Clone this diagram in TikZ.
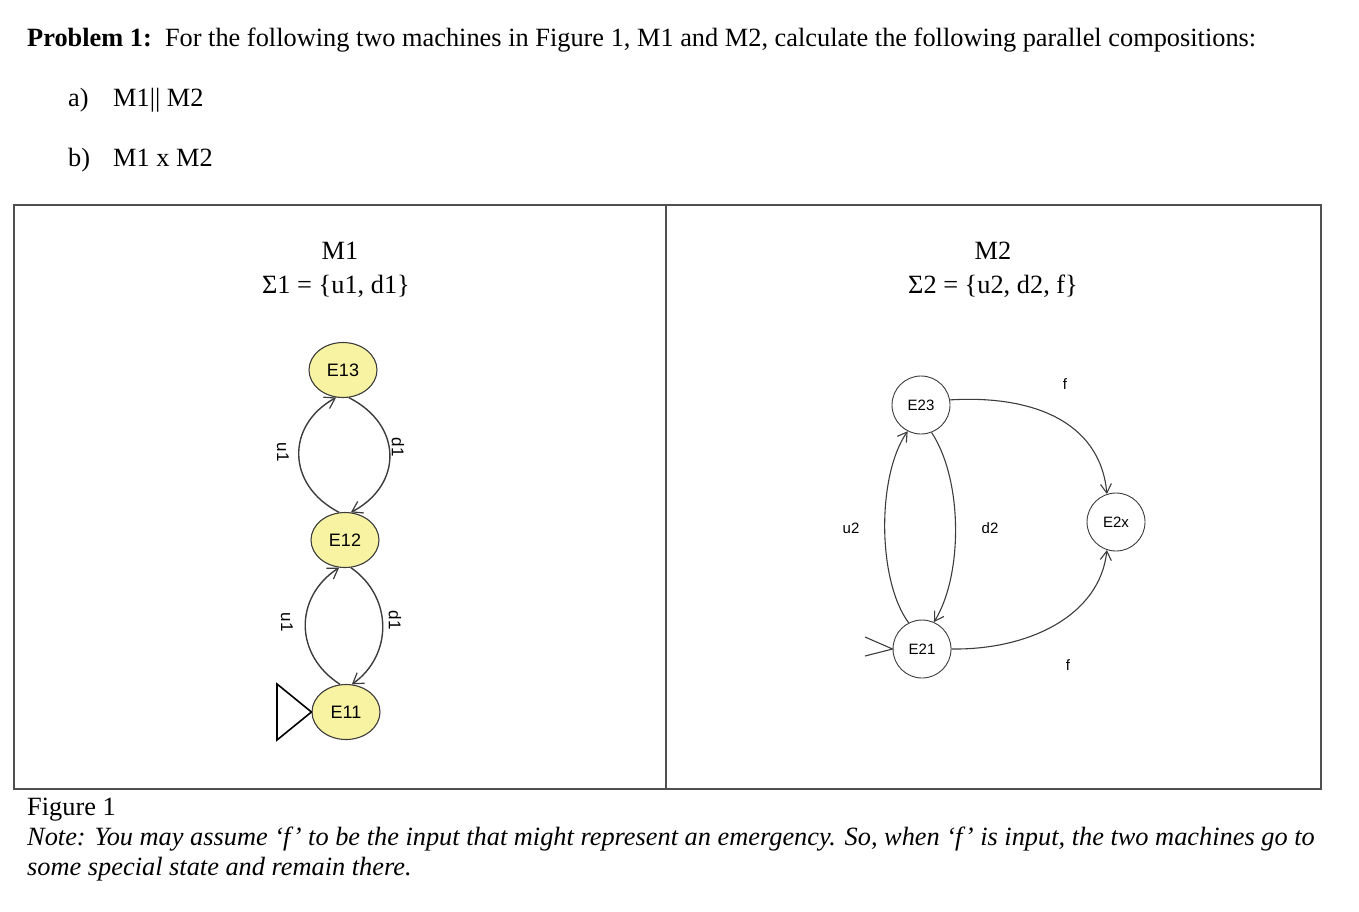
\documentclass[tikz,border=0pt]{standalone}
\usepackage{fontspec}
\setmainfont{Liberation Serif}
\newfontfamily\statefont{Liberation Sans}
\usetikzlibrary{shapes.geometric,arrows.meta}
\definecolor{stateyellow}{HTML}{F7F3A2}
\definecolor{edgegray}{HTML}{3C3C3C}
\definecolor{boxgray}{HTML}{505050}
\tikzset{
  doc/.style={inner sep=0pt,font=\fontsize{26.35}{30}\selectfont},
  yst/.style={ellipse,draw=edgegray,line width=1.1pt,fill=stateyellow,minimum width=68pt,minimum height=55pt,inner sep=0pt,font=\statefont\fontsize{18}{20}\selectfont},
  wst/.style={circle,draw=edgegray,line width=0.9pt,fill=white,minimum size=58pt,inner sep=0pt,font=\statefont\fontsize{15}{17}\selectfont},
  tr1/.style={draw=edgegray,line width=1.4pt,-{Straight Barb[length=10pt,width=13pt,line width=1.2pt]}},
  tr2/.style={draw=edgegray,line width=1.1pt,-{Straight Barb[length=9pt,width=11pt,line width=1.1pt]}},
  lab1/.style={inner sep=0pt,rotate=-90,font=\statefont\fontsize{17}{19}\selectfont},
  lab2/.style={inner sep=0pt,font=\statefont\fontsize{15}{17}\selectfont},
  framebox/.style={draw=boxgray,line width=1.4pt}
}
\begin{document}
\begin{tikzpicture}[x=1pt,y=-1pt]
\useasboundingbox (0,0) rectangle (1359,911);
% header text
\node[doc,anchor=base west] (title) at (27,46) {\textbf{Problem 1:}\hspace{0.5em}For the following two machines in Figure 1, M1 and M2, calculate the following parallel compositions:};
\node[doc,anchor=base west] (qa) at (68,106) {a)};
\node[doc,anchor=base west] (qatext) at (113,106) {M1|| M2};
\node[doc,anchor=base west] (qb) at (68,166) {b)};
\node[doc,anchor=base west] (qbtext) at (113,166) {M1 x M2};
% frame
\draw[framebox] (14,205) rectangle (1321,789);
\draw[framebox] (666,205) -- (666,789);
\draw[draw=boxgray,line width=2.6pt] (14,789) -- (1321,789);
% machine headers
\node[doc,anchor=base] (m1) at (340,259) {M1};
\node[doc,anchor=base] (s1) at (336,293) {Σ1 = \{u1, d1\}};
\node[doc,anchor=base] (m2) at (993,259) {M2};
\node[doc,anchor=base] (s2) at (993,293) {Σ2 = \{u2, d2, f\}};
% M1 states
\node[yst] (E13) at (343,370) {E13};
\node[yst] (E12) at (345,540) {E12};
\node[yst] (E11) at (346,712) {E11};
\draw[tr1] (E12.102) .. controls (286,485) and (286,425) .. (E13.256);
\draw[tr1] (E13.282) .. controls (403,425) and (403,485) .. (E12.78);
\draw[tr1] (E11.102) .. controls (294,655) and (294,597) .. (E12.258);
\draw[tr1] (E12.282) .. controls (393,597) and (393,655) .. (E11.78);
\node[lab1] (lu1a) at (283,452) {u1};
\node[lab1] (ld1a) at (398,447) {d1};
\node[lab1] (lu1b) at (287,622) {u1};
\node[lab1] (ld1b) at (395,620) {d1};
\coordinate (t1) at (277,684);
\coordinate (t2) at (277,740);
\draw[black,line width=1.6pt,line join=miter] (E11.west) -- (t1) -- (t2) -- cycle;
% M2 states
\node[wst] (E23) at (921,405) {E23};
\node[wst] (E21) at (922,649) {E21};
\node[wst] (E2x) at (1116,522) {E2x};
\draw[tr2] (E21.117) .. controls (877,580) and (877,475) .. (E23.243);
\draw[tr2] (E23.291) .. controls (963,480) and (963,575) .. (E21.66);
\draw[tr2] (E23.10) .. controls (1030,395) and (1100,420) .. (E2x.108);
\draw[tr2] (E21.0) .. controls (1030,650) and (1100,615) .. (E2x.252);
\node[lab2] (lu2) at (851,528) {u2};
\node[lab2] (ld2) at (990,528) {d2};
\node[lab2] (lf1) at (1065,384) {f};
\node[lab2] (lf2) at (1068,665) {f};
\coordinate (i1) at (865,637);
\coordinate (i2) at (865,656);
\draw[edgegray,line width=1.1pt] (i1) -- (E21.west) -- (i2);
% caption and note
\node[doc,anchor=base west] (fig) at (27,815) {Figure 1};
\node[doc,anchor=base west] (note1) at (27,845) {\itshape Note: You may assume ‘f’ to be the input that might represent an emergency. So, when ‘f’ is input, the two machines go to};
\node[doc,anchor=base west] (note2) at (27,875) {\itshape some special state and remain there.};
\end{tikzpicture}
\end{document}
